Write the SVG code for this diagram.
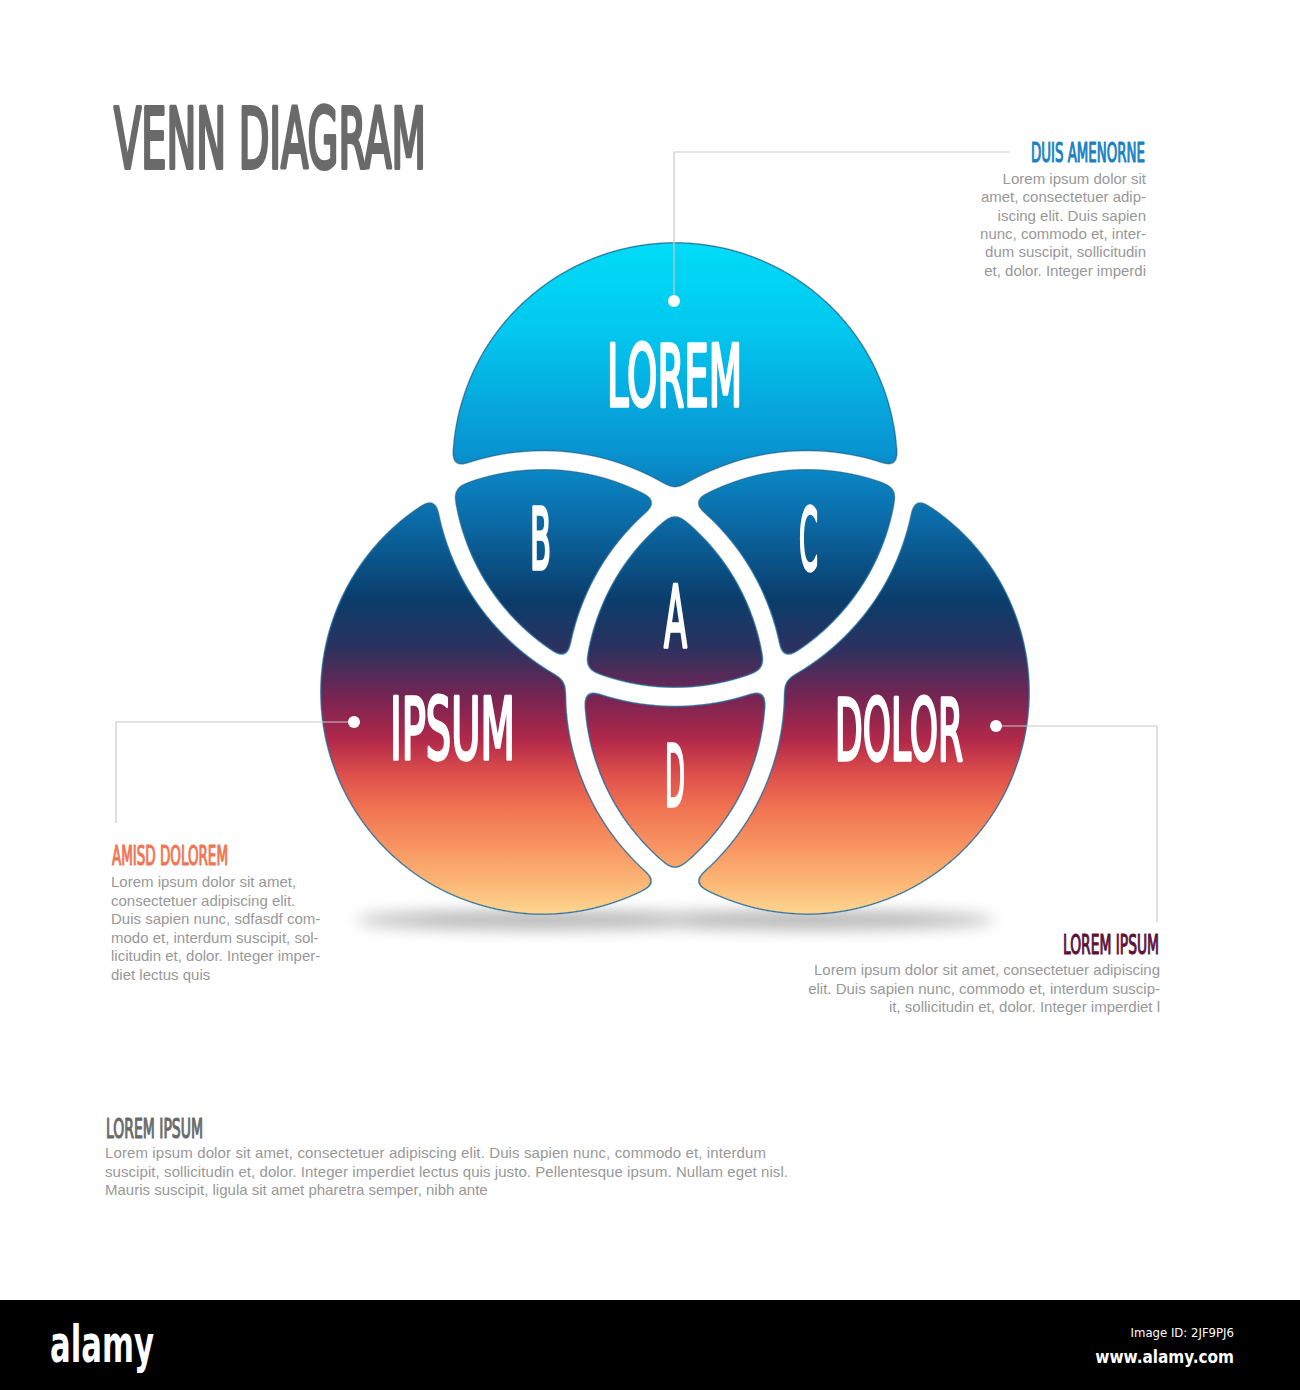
<svg xmlns="http://www.w3.org/2000/svg" xmlns:xlink="http://www.w3.org/1999/xlink" width="1300" height="1390" viewBox="0 0 1300 1390">
<style>
.cond{font-family:'Liberation Sans Narrow','DejaVu Sans Condensed','Liberation Sans',sans-serif;font-weight:400}
.lbl{fill:#ffffff;stroke:#ffffff;stroke-width:3.4;stroke-linejoin:round;font-size:86px}
.head{font-size:27px;stroke-width:1.2;stroke-linejoin:round}
.body{font-family:'Liberation Sans',Arial,sans-serif;font-size:15px;fill:#989898}
.con{fill:none;stroke:#c9c9c9;stroke-width:1.2}
.dot{fill:#ffffff}
</style>
<defs>
<linearGradient id="grad" gradientUnits="userSpaceOnUse" x1="0" y1="242" x2="0" y2="915">
<stop offset="0" stop-color="#00dcf7"/>
<stop offset="0.131" stop-color="#02c8ef"/>
<stop offset="0.309" stop-color="#0894d2"/>
<stop offset="0.413" stop-color="#0b6ba7"/>
<stop offset="0.532" stop-color="#0a3d6b"/>
<stop offset="0.606" stop-color="#2e315e"/>
<stop offset="0.681" stop-color="#7b2452"/>
<stop offset="0.740" stop-color="#b2294a"/>
<stop offset="0.792" stop-color="#de504b"/>
<stop offset="0.844" stop-color="#f17552"/>
<stop offset="0.903" stop-color="#f99763"/>
<stop offset="0.955" stop-color="#fcb877"/>
<stop offset="1" stop-color="#fdd892"/>
</linearGradient>
<g id="shape">
<circle cx="675" cy="465" r="223" fill="#fff"/>
<circle cx="543" cy="692" r="223" fill="#fff"/>
<circle cx="807" cy="692" r="223" fill="#fff"/>
<circle cx="675" cy="465" r="232" fill="none" stroke="#000" stroke-width="18"/>
<circle cx="543" cy="692" r="232" fill="none" stroke="#000" stroke-width="18"/>
<circle cx="807" cy="692" r="232" fill="none" stroke="#000" stroke-width="18"/>
</g>
<filter id="rndOuter" filterUnits="userSpaceOnUse" x="0" y="0" width="1300" height="1300" color-interpolation-filters="sRGB">
<feColorMatrix type="luminanceToAlpha"/>
<feGaussianBlur stdDeviation="7"/>
<feComponentTransfer><feFuncA type="linear" slope="14" intercept="-6.5"/></feComponentTransfer>
<feColorMatrix type="matrix" values="0 0 0 0 1  0 0 0 0 1  0 0 0 0 1  0 0 0 1 0"/>
</filter>
<filter id="rndInner" filterUnits="userSpaceOnUse" x="0" y="0" width="1300" height="1300" color-interpolation-filters="sRGB">
<feColorMatrix type="luminanceToAlpha"/>
<feGaussianBlur stdDeviation="7"/>
<feComponentTransfer><feFuncA type="linear" slope="14" intercept="-7.5"/></feComponentTransfer>
<feColorMatrix type="matrix" values="0 0 0 0 1  0 0 0 0 1  0 0 0 0 1  0 0 0 1 0"/>
</filter>
<mask id="mOuter" maskUnits="userSpaceOnUse" x="0" y="0" width="1300" height="1300">
<use xlink:href="#shape" filter="url(#rndOuter)"/>
</mask>
<mask id="mInner" maskUnits="userSpaceOnUse" x="0" y="0" width="1300" height="1300">
<use xlink:href="#shape" filter="url(#rndInner)"/>
</mask>
<filter id="shadowBlur" x="-30%" y="-200%" width="160%" height="500%">
<feGaussianBlur stdDeviation="8"/>
</filter>
</defs>
<rect x="0" y="0" width="1300" height="1390" fill="#ffffff"/>

<text class="cond" x="114" y="168" font-size="84" fill="#6a6a6a" stroke="#6a6a6a" stroke-width="4" stroke-linejoin="round" textLength="312" lengthAdjust="spacingAndGlyphs">VENN DIAGRAM</text>

<g id="shadow" filter="url(#shadowBlur)" opacity="0.3">
<ellipse cx="540" cy="920" rx="185" ry="9" fill="#000"/>
<ellipse cx="810" cy="920" rx="185" ry="9" fill="#000"/>
</g>

<g id="venn-shapes">
<rect x="300" y="230" width="750" height="700" fill="#2a6f9c" mask="url(#mOuter)"/>
<rect x="300" y="230" width="750" height="700" fill="url(#grad)" mask="url(#mInner)"/>
</g>

<g id="connectors">
<polyline class="con" points="674,301 674,152 1010,152"/>
<polyline class="con" points="354,722 116,722 116,823"/>
<polyline class="con" points="996,726 1157,726 1157,922"/>
<circle class="dot" cx="674" cy="301" r="6"/>
<circle class="dot" cx="354" cy="722" r="6"/>
<circle class="dot" cx="996" cy="726" r="6"/>
</g>

<g id="node-lorem"><text class="cond lbl" x="607" y="406" textLength="135" lengthAdjust="spacingAndGlyphs">LOREM</text></g>
<g id="node-ipsum"><text class="cond lbl" x="390" y="759" textLength="125" lengthAdjust="spacingAndGlyphs">IPSUM</text></g>
<g id="node-dolor"><text class="cond lbl" x="835" y="760" textLength="128" lengthAdjust="spacingAndGlyphs">DOLOR</text></g>
<g id="node-b"><text class="cond lbl" x="530" y="569" textLength="21" lengthAdjust="spacingAndGlyphs">B</text></g>
<g id="node-c"><text class="cond lbl" x="799" y="570" textLength="19" lengthAdjust="spacingAndGlyphs">C</text></g>
<g id="node-a"><text class="cond lbl" x="664" y="647" textLength="23" lengthAdjust="spacingAndGlyphs">A</text></g>
<g id="node-d"><text class="cond lbl" x="665" y="806" textLength="20" lengthAdjust="spacingAndGlyphs">D</text></g>

<g id="note-top">
<text class="cond head" x="1031" y="162" fill="#1b7fc4" stroke="#1b7fc4" textLength="114" lengthAdjust="spacingAndGlyphs">DUIS AMENORNE</text>
<g class="body" text-anchor="end">
<text x="1146" y="184">Lorem ipsum dolor sit</text>
<text x="1146" y="202.3">amet, consectetuer adip-</text>
<text x="1146" y="220.6">iscing elit. Duis sapien</text>
<text x="1146" y="239">nunc, commodo et, inter-</text>
<text x="1146" y="257.3">dum suscipit, sollicitudin</text>
<text x="1146" y="275.6">et, dolor. Integer imperdi</text>
</g>
</g>

<g id="note-left">
<text class="cond head" x="112" y="865" fill="#f07552" stroke="#f07552" textLength="116" lengthAdjust="spacingAndGlyphs">AMISD DOLOREM</text>
<g class="body">
<text x="111" y="887">Lorem ipsum dolor sit amet,</text>
<text x="111" y="905.5">consectetuer adipiscing elit.</text>
<text x="111" y="924">Duis sapien nunc, sdfasdf com-</text>
<text x="111" y="942.5">modo et, interdum suscipit, sol-</text>
<text x="111" y="961">licitudin et, dolor. Integer imper-</text>
<text x="111" y="979.5">diet lectus quis</text>
</g>
</g>

<g id="note-right">
<text class="cond head" x="1063" y="954" fill="#5c1238" stroke="#5c1238" textLength="96" lengthAdjust="spacingAndGlyphs">LOREM IPSUM</text>
<g class="body" text-anchor="end">
<text x="1160" y="975">Lorem ipsum dolor sit amet, consectetuer adipiscing</text>
<text x="1160" y="993.5">elit. Duis sapien nunc, commodo et, interdum suscip-</text>
<text x="1160" y="1012">it, sollicitudin et, dolor. Integer imperdiet l</text>
</g>
</g>

<g id="note-bottom">
<text class="cond head" x="106" y="1138" fill="#6a6a6a" stroke="#6a6a6a" textLength="97" lengthAdjust="spacingAndGlyphs">LOREM IPSUM</text>
<g class="body">
<text x="105" y="1158" textLength="661" lengthAdjust="spacing">Lorem ipsum dolor sit amet, consectetuer adipiscing elit. Duis sapien nunc, commodo et, interdum</text>
<text x="105" y="1177" textLength="683" lengthAdjust="spacing">suscipit, sollicitudin et, dolor. Integer imperdiet lectus quis justo. Pellentesque ipsum. Nullam eget nisl.</text>
<text x="105" y="1195">Mauris suscipit, ligula sit amet pharetra semper, nibh ante</text>
</g>
</g>

<g id="footer">
<rect x="0" y="1300" width="1300" height="90" fill="#000000"/>
<text x="50" y="1362" font-family="'Liberation Sans Narrow','DejaVu Sans Condensed',sans-serif" font-weight="700" font-size="52" fill="#ffffff" textLength="104" lengthAdjust="spacingAndGlyphs">alamy</text>
<text x="1234" y="1337" text-anchor="end" font-family="'DejaVu Sans Condensed','Liberation Sans Narrow',sans-serif" font-size="13" fill="#ffffff">Image ID: 2JF9PJ6</text>
<text x="1234" y="1363" text-anchor="end" font-family="'DejaVu Sans Condensed','Liberation Sans Narrow',sans-serif" font-weight="700" font-size="17" fill="#ffffff">www.alamy.com</text>
</g>
</svg>
